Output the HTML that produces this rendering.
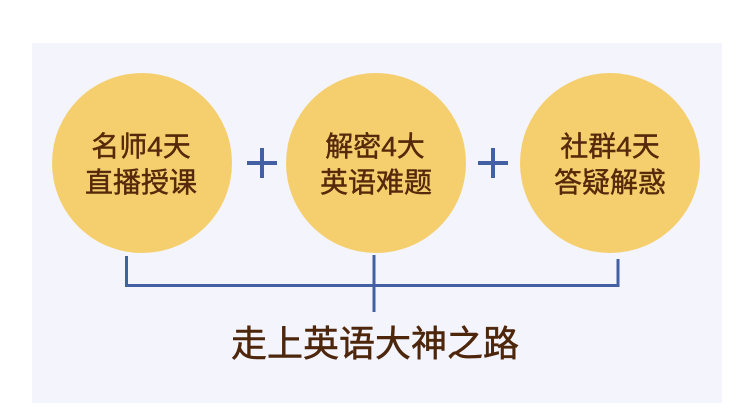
<!DOCTYPE html>
<html>
<head>
<meta charset="utf-8">
<style>
html,body{margin:0;padding:0;background:#fff;}
svg{display:block;}
text{font-family:"Liberation Sans","Noto Sans CJK SC",sans-serif;fill:#56290b;stroke:#56290b;text-anchor:middle;}
.n{font-size:28px;stroke-width:.45px;}
.t{font-size:36px;fill:#4d260b;stroke:#4d260b;stroke-width:.55px;}
</style>
</head>
<body>
<svg width="750" height="415" viewBox="0 0 750 415" xmlns="http://www.w3.org/2000/svg">
<rect width="750" height="415" fill="#fff"/>
<rect x="32" y="43" width="690" height="360" fill="#f3f4fc"/>
<circle cx="142" cy="163" r="90" fill="#f5cf6e"/>
<circle cx="376" cy="163" r="90" fill="#f5cf6e"/>
<circle cx="610" cy="163" r="90" fill="#f5cf6e"/>
<g fill="#4460a4">
<rect x="247" y="161" width="30" height="4"/>
<rect x="260" y="148" width="4" height="30"/>
<rect x="478" y="161" width="30" height="4"/>
<rect x="491" y="148" width="4" height="30"/>
</g>
<path d="M126.500 256V285.500H618V259M374 255V312" fill="none" stroke="#4460a4" stroke-width="3"/>
<text class="n" x="141" y="156">名师4天</text>
<text class="n" x="141" y="192">直播授课</text>
<text class="n" x="375" y="156">解密4大</text>
<text class="n" x="376" y="192">英语难题</text>
<text class="n" x="610" y="156">社群4天</text>
<text class="n" x="610" y="192">答疑解惑</text>
<text class="t" x="375" y="356">走上英语大神之路</text>
</svg>
</body>
</html>
